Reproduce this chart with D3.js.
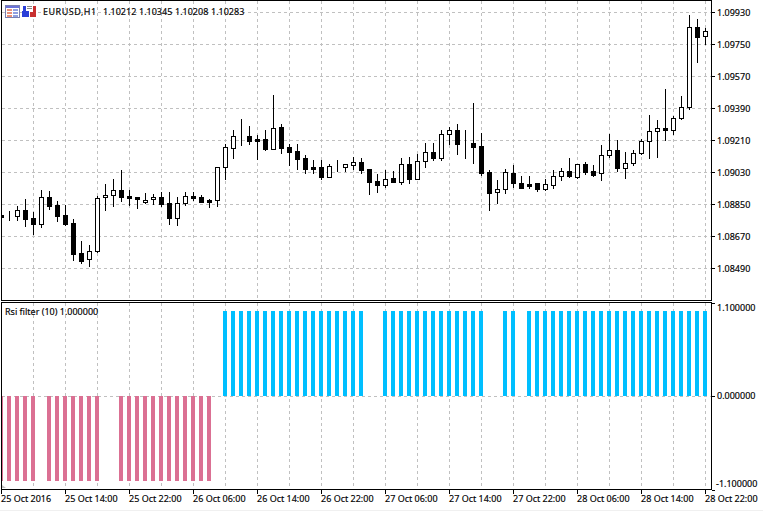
<!DOCTYPE html>
<html><head><meta charset="utf-8">
<script src="https://cdn.jsdelivr.net/npm/d3@7"></script>
<style>html,body{margin:0;padding:0;background:#fff}svg{display:block}text{font-family:"Noto Sans",sans-serif;font-size:9px;fill:#000;stroke:#000;stroke-width:.15px}</style>
</head><body><svg id="c" width="763" height="511"></svg>
<script>
const timeLabels=["25 Oct 2016","25 Oct 14:00","25 Oct 22:00","26 Oct 06:00","26 Oct 14:00","26 Oct 22:00","27 Oct 06:00","27 Oct 14:00","27 Oct 22:00","28 Oct 06:00","28 Oct 14:00","28 Oct 22:00"];
const priceTicks=[1.0993,1.0975,1.0957,1.0939,1.0921,1.0903,1.0885,1.0867,1.0849];
const filterTicks=[1.1,0,-1.1];
const headerParts=["EURUSD,H1","1.10212","1.10345","1.10208","1.10283"];
const subHeader="Rsi filter (10) 1.000000";
const open=[1.08788,1.08783,1.08783,1.08816,1.08771,1.08738,1.08889,1.08844,1.08788,1.08743,1.08574,1.08541,1.08586,1.08889,1.08901,1.08929,1.08895,1.08889,1.08861,1.08878,1.08889,1.08856,1.08771,1.08856,1.08895,1.08889,1.08873,1.08873,1.09058,1.09165,1.09233,1.09233,1.09216,1.09216,1.09159,1.09283,1.09171,1.09148,1.09109,1.09058,1.09058,1.09002,1.09064,1.09058,1.09069,1.09086,1.09047,1.08979,1.08957,1.08996,1.08974,1.09075,1.08991,1.09092,1.09143,1.09109,1.09244,1.09266,1.09193,1.09193,1.09176,1.09030,1.08918,1.08934,1.09024,1.08968,1.08963,1.08968,1.08934,1.08957,1.09008,1.09036,1.09002,1.09075,1.09036,1.09024,1.09126,1.09154,1.09053,1.09081,1.09137,1.09204,1.09261,1.09278,1.09266,1.09334,1.09396,1.09846,1.09795];
const high=[1.08794,1.08811,1.08839,1.08878,1.08805,1.08929,1.08923,1.08867,1.08844,1.08766,1.08642,1.08619,1.08895,1.08963,1.08991,1.09041,1.08929,1.08889,1.08912,1.08906,1.08918,1.08918,1.08889,1.08918,1.08918,1.08901,1.08878,1.08969,1.09188,1.09266,1.09328,1.09289,1.09238,1.09266,1.09463,1.09300,1.09188,1.09188,1.09126,1.09098,1.09098,1.09075,1.09098,1.09075,1.09114,1.09109,1.09047,1.09019,1.09041,1.09036,1.09109,1.09114,1.09131,1.09193,1.09193,1.09266,1.09283,1.09300,1.09266,1.09418,1.09249,1.09041,1.08985,1.09047,1.09069,1.09008,1.09008,1.08968,1.08991,1.09041,1.09053,1.09109,1.09075,1.09086,1.09069,1.09182,1.09244,1.09210,1.09143,1.09154,1.09216,1.09351,1.09323,1.09497,1.09345,1.09458,1.09913,1.09891,1.09840];
const low=[1.08771,1.08760,1.08760,1.08726,1.08681,1.08721,1.08822,1.08754,1.08732,1.08535,1.08518,1.08501,1.08580,1.08816,1.08839,1.08867,1.08844,1.08828,1.08856,1.08850,1.08839,1.08738,1.08732,1.08844,1.08873,1.08861,1.08833,1.08839,1.08991,1.09109,1.09182,1.09188,1.09103,1.09154,1.09159,1.09137,1.09069,1.09047,1.09024,1.09024,1.08991,1.09002,1.09036,1.09036,1.09047,1.09024,1.08906,1.08918,1.08946,1.08974,1.08963,1.08968,1.08991,1.09058,1.09098,1.09098,1.09188,1.09131,1.09109,1.09081,1.09013,1.08816,1.08856,1.08912,1.08946,1.08940,1.08940,1.08923,1.08929,1.08940,1.08985,1.09002,1.08996,1.09019,1.09008,1.08985,1.09114,1.09036,1.08996,1.09069,1.09131,1.09109,1.09114,1.09210,1.09244,1.09328,1.09384,1.09649,1.09750];
const close=[1.08777,1.08783,1.08816,1.08766,1.08738,1.08889,1.08839,1.08783,1.08738,1.08569,1.08529,1.08586,1.08884,1.08901,1.08929,1.08889,1.08884,1.08878,1.08873,1.08889,1.08850,1.08771,1.08856,1.08895,1.08884,1.08861,1.08861,1.09058,1.09171,1.09233,1.09233,1.09204,1.09204,1.09159,1.09278,1.09165,1.09143,1.09103,1.09047,1.09047,1.09002,1.09064,1.09064,1.09075,1.09086,1.09041,1.08974,1.08957,1.08991,1.08974,1.09075,1.08991,1.09092,1.09143,1.09109,1.09244,1.09266,1.09188,1.09193,1.09171,1.09024,1.08912,1.08934,1.09030,1.08968,1.08940,1.08951,1.08934,1.08963,1.09008,1.09036,1.09008,1.09075,1.09030,1.09013,1.09126,1.09154,1.09053,1.09081,1.09137,1.09204,1.09261,1.09278,1.09266,1.09334,1.09396,1.09846,1.09789,1.09823];
const pinkIdx=[0,1,2,3,4,6,7,8,9,10,11,12,15,16,17,18,19,20,21,22,23,24,25,26];
const blueIdx=[28,29,30,31,32,33,34,35,36,37,38,39,40,41,42,43,44,45,48,49,50,51,52,53,54,55,56,57,58,59,60,63,64,66,67,68,69,70,71,72,73,74,75,76,77,78,79,80,81,82,83,84,85,86,87,88];

const svg=d3.select("#c");
const x=d3.scaleLinear().domain([0,88]).range([1,705]);
const yP=d3.scaleLinear().domain([1.0993,1.0849]).range([12,268]);
const yF=d3.scaleLinear().domain([1.1,-1.1]).range([302.5,489.5]);
const px=v=>Math.round(v)+0.5;
svg.append("rect").attr("x",0).attr("y",510).attr("width",763).attr("height",1).attr("fill","#f0f0f0");

// grids
const grid=svg.append("g").attr("stroke","#c0c0c0").attr("stroke-dasharray","3,3").attr("fill","none");
d3.range(4,89,4).forEach(i=>{
  grid.append("line").attr("x1",px(x(i))).attr("x2",px(x(i))).attr("y1",1).attr("y2",300);
  grid.append("line").attr("x1",px(x(i))).attr("x2",px(x(i))).attr("y1",303).attr("y2",489);
});
priceTicks.forEach(t=>grid.append("line").attr("x1",2).attr("x2",711).attr("y1",px(yP(t))).attr("y2",px(yP(t))));
grid.append("line").attr("x1",2).attr("x2",711).attr("y1",px(yF(0))).attr("y2",px(yF(0)));

// candles
const n=open.length;
const cg=svg.append("g").attr("shape-rendering","crispEdges");
d3.range(n).forEach(i=>{
  const cx=Math.round(x(i)), bull=close[i]>open[i];
  const t=Math.round(yP(Math.max(open[i],close[i]))), b=Math.round(yP(Math.min(open[i],close[i])));
  cg.append("line").attr("x1",cx+.5).attr("x2",cx+.5).attr("y1",Math.round(yP(high[i]))).attr("y2",Math.round(yP(low[i]))+1).attr("stroke","#000");
  const lo=Math.max(cx-2,2);
  cg.append("rect").attr("x",lo+.5).attr("y",t+.5).attr("width",cx+2-lo).attr("height",Math.max(b-t,0))
    .attr("fill",bull?"#fff":"#000").attr("stroke","#000");
});

// filter bars
const bars=svg.append("g").attr("shape-rendering","crispEdges");
bars.selectAll(".p").data(pinkIdx).join("rect").attr("x",d=>Math.max(Math.round(x(d))-2,2)).attr("width",d=>Math.round(x(d))+2-Math.max(Math.round(x(d))-2,2)).attr("y",yF(0)).attr("height",yF(-1)-yF(0)).attr("fill","#db7093");
bars.selectAll(".b").data(blueIdx).join("rect").attr("x",d=>Math.round(x(d))-2).attr("width",4).attr("y",yF(1)).attr("height",yF(0)-yF(1)).attr("fill","#00bfff");

// frame
const fr=svg.append("g").attr("stroke","#000").attr("fill","none").attr("shape-rendering","crispEdges");
fr.append("rect").attr("x",1.5).attr("y",0.5).attr("width",710).attr("height",300);
fr.append("rect").attr("x",1.5).attr("y",302.5).attr("width",710).attr("height",187);

// axis ticks + labels
priceTicks.forEach(t=>{
  const y=Math.round(yP(t));
  fr.append("line").attr("x1",712).attr("x2",715).attr("y1",y+.5).attr("y2",y+.5);
  svg.append("text").attr("x",717).attr("y",y+3.5).text(t.toFixed(5));
});
const fy=[307.5,395.5,483.5];
filterTicks.forEach((t,i)=>{
  const y=Math.round(yF(t));
  fr.append("line").attr("x1",712).attr("x2",715).attr("y1",y+.5).attr("y2",y+.5);
  svg.append("text").attr("x",t<0?716:717).attr("y",fy[i]+3.5).text(t.toFixed(6));
});
timeLabels.forEach((s,i)=>{
  const xx=Math.round(x(i*8));
  fr.append("line").attr("x1",xx+.5).attr("x2",xx+.5).attr("y1",490).attr("y2",494);
  svg.append("text").attr("x",xx).attr("y",501.5).text(s);
});
headerParts.forEach((s,i)=>svg.append("text").attr("x",i==0?43:103+(i-1)*36).attr("y",14.5).attr("letter-spacing",i==0?0.5:0).text(s));
svg.append("text").attr("x",5).attr("y",314.5).text(subHeader);

// corner icons
const ic=svg.append("g").attr("shape-rendering","crispEdges");
ic.append("rect").attr("x",5.5).attr("y",5.5).attr("width",14).attr("height",12).attr("fill","#fff").attr("stroke","#7a7fb0");
ic.append("rect").attr("x",6).attr("y",6).attr("width",13).attr("height",2).attr("fill","#6a72d8");
d3.range(3).forEach(k=>{
  ic.append("rect").attr("x",7).attr("y",9+k*3).attr("width",5).attr("height",2).attr("fill","#e8907a");
  ic.append("rect").attr("x",13).attr("y",9+k*3).attr("width",5).attr("height",2).attr("fill","#90a0e0");
});
ic.append("rect").attr("x",22).attr("y",11).attr("width",7).attr("height",6).attr("fill","#2a3fd8");
ic.append("rect").attr("x",23).attr("y",6).attr("width",3).attr("height",6).attr("fill","#2a3fd8");
ic.append("rect").attr("x",30).attr("y",12).attr("width",6).attr("height",5).attr("fill","#c83030");
ic.append("rect").attr("x",33).attr("y",6).attr("width",3).attr("height",7).attr("fill","#c83030");
ic.append("rect").attr("x",27).attr("y",6).attr("width",5).attr("height",1).attr("fill","#888");
ic.append("rect").attr("x",27).attr("y",8).attr("width",5).attr("height",1).attr("fill","#888");
svg.append("path").attr("d","M2 485L6 488L2 488Z").attr("fill","#c0c0c0");
</script></body></html>
